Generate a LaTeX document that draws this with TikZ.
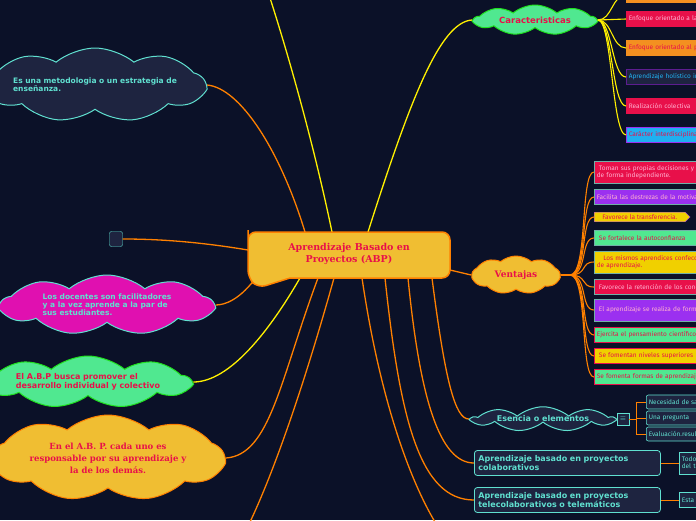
\documentclass[tikz,border=0pt]{standalone}
\usepackage{fontspec}
\setmainfont{DejaVu Sans}
\newfontfamily\slab{DejaVu Serif}
\newfontfamily\firaf{Fira Sans}
\usetikzlibrary{shapes.symbols,shapes.arrows}
\definecolor{bg}{HTML}{0B1128}
\definecolor{navy}{HTML}{1E2440}
\definecolor{cy}{HTML}{60E0D0}
\definecolor{ora}{HTML}{FF8000}
\definecolor{yel}{HTML}{FFF000}
\definecolor{gold}{HTML}{F0BE32}
\definecolor{crim}{HTML}{E8104A}
\definecolor{grn}{HTML}{50E890}
\definecolor{grnb}{HTML}{20E020}
\definecolor{purp}{HTML}{9B30F0}
\definecolor{yelbox}{HTML}{F0D000}
\definecolor{cyanbox}{HTML}{20B0F0}
\definecolor{orbox}{HTML}{F39020}
\definecolor{lpink}{HTML}{FFB0D0}
\definecolor{mag}{HTML}{E010B0}
\begin{document}
\begin{tikzpicture}[x=1pt,y=-1pt,
 cl/.style={cloud,cloud puffs=9,cloud puff arc=80,cloud ignores aspect,draw,line width=1pt,align=center,inner sep=0pt},
 lb/.style={draw=#1,line width=0.6pt,anchor=west,font=\firaf\fontsize{6.5}{7}\selectfont,align=left,inner sep=2.5pt,text width=200pt,minimum height=15pt},
 lnO/.style={draw=ora,line width=1.3pt},
 lnY/.style={draw=yel,line width=1.3pt},
 nb/.style={draw=cy,fill=navy,rounded corners=3pt,line width=0.8pt,text=cy,font=\bfseries\fontsize{8}{8.5}\selectfont,align=left,anchor=west,inner sep=4pt,text width=178pt}]
\fill[bg] (0,0) rectangle (696,520);
\useasboundingbox (0,0) rectangle (696,520);
\coordinate (topend) at (270,-2);
\coordinate (bot1) at (250,522);
\coordinate (bot2) at (435,522);
\coordinate (cA) at (332,232);
\draw[lnY] (cA) .. controls (315,150) and (290,60) .. (topend);
% nodes
\node[cl,fill=gold,draw=ora,minimum width=88pt,minimum height=38pt,text=crim,font=\slab\bfseries\fontsize{9}{10}\selectfont] (ven) at (516,275) {Ventajas};
\node[cl,fill=grn,draw=grnb,minimum width=122pt,minimum height=30pt,text=crim,font=\bfseries\fontsize{8.5}{9}\selectfont] (car) at (535,20) {Caracteristicas};
\node[cl,fill=navy,draw=cy,minimum width=142pt,minimum height=24pt,text=cy,font=\bfseries\fontsize{8}{9}\selectfont] (ese) at (543,419) {Esencia o elementos};
\node[draw=cy,fill=navy,minimum width=12pt,minimum height=12pt,inner sep=0pt,text=cy,font=\fontsize{7}{7}\selectfont] (ic) at (623,419) {$\equiv$};
\node[cl,fill=navy,draw=cy,minimum width=218pt,minimum height=74pt,text=cy,font=\bfseries\fontsize{7.5}{8}\selectfont,align=left] (c1) at (95,85) {Es una metodologia o un estrategia de\\enseñanza.};
\node[draw=cy,fill=navy,rounded corners=2pt,minimum width=13pt,minimum height=15pt,inner sep=0pt] (sq) at (116,239) {};
\node[cl,fill=mag,draw=cy,minimum width=212pt,minimum height=60pt,text=cy,font=\bfseries\fontsize{7.5}{8}\selectfont,align=left] (c2) at (107,305) {Los docentes son facilitadores\\y a la vez aprende a la par de\\sus estudiantes.};
\node[cl,fill=grn,draw=grnb,minimum width=205pt,minimum height=52pt,text=crim,font=\bfseries\fontsize{8}{9}\selectfont,align=left] (c3) at (88,382) {El A.B.P busca promover el\\desarrollo individual y colectivo};
\node[cl,fill=gold,draw=ora,minimum width=232pt,minimum height=86pt,text=crim,font=\slab\bfseries\fontsize{8.5}{12}\selectfont] (c4) at (108,458) {En el A.B. P. cada uno es\\responsable por su aprendizaje y\\la de los demás.};
\node[nb,minimum height=25pt] (col) at (474,463) {Aprendizaje basado en proyectos\\colaborativos};
\node[nb,minimum height=25pt] (tel) at (474,500) {Aprendizaje basado en proyectos\\telecolaborativos o telemáticos};
\node[lb=cy,fill=navy,text=cy,minimum height=22pt] (col1) at (679,463) {Todo\\del t};
\node[lb=cy,fill=navy,text=cy] (tel1) at (679,500) {Esta};
\foreach \y/\t [count=\i] in {402/Necesidad de saber,418/Una pregunta,434/Evaluación.resultados}
  \node[lb=cy,fill=navy,text=cy,rounded corners=2pt,minimum height=14pt] (e\i) at (646,\y) {\t};
\node[lb=orbox,fill=orbox,text=crim] (k0) at (626,-5) {Enfoque};
\node[lb=crim,fill=crim,text=lpink] (k1) at (626,19) {Enfoque orientado a la tarea};
\node[lb=orbox,fill=orbox,text=crim] (k2) at (626,48) {Enfoque orientado al proceso};
\node[lb=purp!60!black,fill=navy,text=cyanbox] (k3) at (626,77) {Aprendizaje holístico integrador};
\node[lb=crim,fill=crim,text=lpink] (k4) at (626,106) {Realización colectiva};
\node[lb=purp,fill=cyanbox,text=crim] (k5) at (626,135) {Carácter interdisciplinar};
\node[lb=cy!50!gray,fill=crim,text=lpink,minimum height=22pt] (v1) at (594,172) {\ Toman sus propias decisiones y actúan\\de forma independiente.};
\node[lb=cy!50!gray,fill=purp,text=lpink] (v2) at (594,197) {Facilita las destrezas de la motivación};
\node[single arrow,single arrow head extend=0pt,draw=purp,fill=yelbox,text=crim,anchor=west,font=\firaf\fontsize{6.5}{7}\selectfont,inner sep=2pt,minimum height=96pt] (v3) at (594,217) {Favorece la transferencia.\hspace{8pt}};
\node[lb=cy!50!gray,fill=grn,text=crim] (v4) at (594,238) {\ Se fortalece la autoconfianza};
\node[lb=cy!50!gray,fill=yelbox,text=crim,minimum height=22pt] (v5) at (594,262) {\quad Los mismos aprendices confeccionan su forma\\de aprendizaje.};
\node[lb=cy!50!gray,fill=crim,text=lpink] (v6) at (594,287) {\ Favorece la retención de los conocimientos};
\node[lb=cy!50!gray,fill=purp,text=lpink,minimum height=22pt] (v7) at (594,310) {\ El aprendizaje se realiza de forma};
\node[lb=crim,fill=grn,text=crim] (v8) at (594,335) {Ejercita el pensamiento científico};
\node[lb=crim,fill=yelbox,text=crim] (v9) at (594,356) {\ Se fomentan niveles superiores};
\node[lb=crim,fill=grn,text=crim] (v10) at (594,377) {Se fomenta formas de aprendizaje};
% connectors
\draw[lnY] (368,232) .. controls (410,100) and (440,22) .. (car.west);
\draw[lnO] (248,250) .. controls (200,242) and (160,239) .. (sq.east);
\draw[lnO] (305,232) .. controls (280,150) and (240,88) .. (c1.east);
\draw[lnO] (258,275) .. controls (240,300) and (225,305) .. (c2.east);
\draw[lnY] (300,278) .. controls (270,330) and (230,382) .. (c3.east);
\draw[lnO] (318,278) .. controls (280,380) and (270,455) .. (c4.east);
\draw[lnO] (334,278) .. controls (300,400) and (270,480) .. (bot1);
\draw[lnO] (362,278) .. controls (380,400) and (410,480) .. (bot2);
\draw[lnO] (385,278) .. controls (400,420) and (420,500) .. (tel.west);
\draw[lnO] (408,278) .. controls (420,400) and (440,463) .. (col.west);
\draw[lnO] (432,278) .. controls (445,380) and (455,419) .. (ese.west);
\draw[lnO] (450,270) -- (ven.west);
\draw[ora,line width=1pt] (ese.east) -- (ic.west);
\foreach \i in {1,2,3} \draw[ora,line width=1pt] (ic.east) -- (636,419) |- (e\i.west);
\draw[ora,line width=1pt] (col.east) -- (col1.west);
\draw[ora,line width=1pt] (tel.east) -- (tel1.west);
\foreach \i in {0,...,5} \draw[lnY,line width=1.1pt] (car.east) -- (598,20) .. controls (612,20) and +(-14,0) .. (k\i.west);
\foreach \i in {1,...,10} \draw[lnO,line width=1.1pt] (ven.east) -- (570,275) .. controls (588,275) and +(-14,0) .. (v\i.west);
% center
\draw[ora,fill=gold,line width=1.5pt,rounded corners=8pt] (248,238) -- (248,278) -- (258,288) [sharp corners]-- (290,278) [rounded corners=8pt]-- (450,278) -- (450,232) -- (248,232) -- cycle;
\node[text=crim,font=\slab\bfseries\fontsize{9.5}{12}\selectfont,align=center] (ctr) at (349,254) {Aprendizaje Basado en\\Proyectos (ABP)};
\end{tikzpicture}
\end{document}
